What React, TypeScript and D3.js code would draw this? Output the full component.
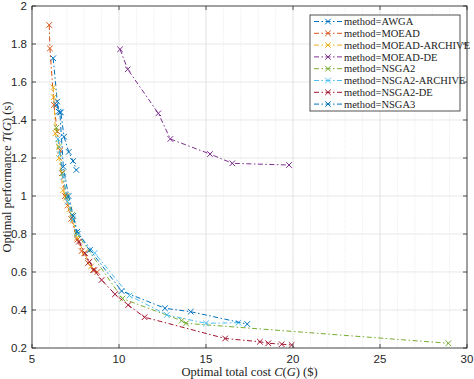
import React from "react";
import * as d3 from "d3";

const seriesNames = [
  "method=AWGA",
  "method=MOEAD",
  "method=MOEAD-ARCHIVE",
  "method=MOEAD-DE",
  "method=NSGA2",
  "method=NSGA2-ARCHIVE",
  "method=NSGA2-DE",
  "method=NSGA3",
];
const seriesColors = ["#0072BD", "#D95319", "#EDB120", "#7E2F8E", "#77AC30", "#4DBEEE", "#A2142F", "#0072BD"];

const awga: [number, number][] = [
  [6.22, 1.725], [6.45, 1.497], [6.53, 1.444], [6.66, 1.44], [6.84, 1.312], [7.11, 1.232], [7.36, 1.184], [7.55, 1.137],
];
const moead: [number, number][] = [
  [5.99, 1.9], [6.03, 1.777], [6.26, 1.48], [6.45, 1.34], [6.62, 1.24], [6.72, 1.12], [6.9, 1.0], [7.05, 0.95],
  [7.25, 0.88], [7.6, 0.77], [7.85, 0.71], [8.22, 0.647], [8.5, 0.61], [8.75, 0.6],
];
const moeadArchive: [number, number][] = [
  [6.22, 1.572], [6.25, 1.52], [6.35, 1.33], [6.55, 1.2], [6.78, 1.03], [6.95, 0.99], [7.15, 0.93], [7.35, 0.87],
  [7.58, 0.78], [8.0, 0.7], [8.4, 0.63],
];
const moeadDe: [number, number][] = [
  [10.06, 1.772], [10.5, 1.667], [12.26, 1.435], [12.95, 1.3], [15.23, 1.221], [16.51, 1.172], [19.77, 1.163],
];
const nsga2: [number, number][] = [
  [6.4, 1.36], [6.55, 1.26], [6.75, 1.12], [7.0, 1.0], [7.3, 0.9], [7.6, 0.8], [10.2, 0.46], [13.6, 0.344],
  [13.85, 0.33], [28.93, 0.225],
];
const nsga2Archive: [number, number][] = [
  [6.5, 1.3], [6.6, 1.22], [6.8, 1.1], [7.05, 0.97], [7.35, 0.88], [7.65, 0.8], [8.6, 0.7], [10.6, 0.476],
  [12.75, 0.374], [15.0, 0.33], [16.86, 0.333],
];
const nsga2De: [number, number][] = [
  [7.7, 0.76], [8.05, 0.698], [8.3, 0.654], [8.58, 0.61], [9.0, 0.558], [9.77, 0.483], [10.53, 0.426], [11.47, 0.362],
  [16.1, 0.25], [18.1, 0.233], [18.58, 0.225], [19.35, 0.22], [19.92, 0.216],
];
const nsga3: [number, number][] = [
  [6.4, 1.48], [6.6, 1.44], [6.8, 1.154], [7.1, 1.0], [7.37, 0.895], [7.6, 0.812], [8.33, 0.716], [10.15, 0.5],
  [12.64, 0.409], [14.12, 0.391], [17.37, 0.326],
];
const allSeries = [awga, moead, moeadArchive, moeadDe, nsga2, nsga2Archive, nsga2De, nsga3];

const xTicks = [5, 10, 15, 20, 25, 30];
const yTicks = [0.2, 0.4, 0.6, 0.8, 1, 1.2, 1.4, 1.6, 1.8, 2];
const xMinor = d3.range(5, 31, 1);

const W = 474;
const H = 379;
const L = 32, R = 467, T = 6, B = 348;

const x = d3.scaleLinear().domain([5, 30]).range([L, R]);
const y = d3.scaleLinear().domain([0.2, 2]).range([B, T]);

const line = d3
  .line<[number, number]>()
  .x((d) => x(d[0]))
  .y((d) => y(d[1]));

const DASH = "5,2.5,1.5,2.5";
const axisColor = "#262626";

function XMark({ cx, cy, color }: { cx: number; cy: number; color: string }) {
  const s = 2.8;
  return (
    <path
      d={`M${cx - s},${cy - s}L${cx + s},${cy + s}M${cx - s},${cy + s}L${cx + s},${cy - s}`}
      stroke={color}
      strokeWidth={1}
      fill="none"
    />
  );
}

export default function App() {
  const legendX = 310, legendY = 15, legendW = 150, legendH = 96;
  return (
    <svg width={W} height={H} style={{ position: "absolute", left: 0, top: 0 }}>
      <rect x={0} y={0} width={W} height={H} fill="#fff" />
      <defs>
        <clipPath id="plotclip">
          <rect x={L} y={T} width={R - L} height={B - T} />
        </clipPath>
      </defs>
      {xMinor.map((v) => (
        <line key={"xm" + v} x1={x(v)} x2={x(v)} y1={T} y2={B} stroke="#d8d8d8" strokeWidth={0.6} strokeDasharray="1,1.5" />
      ))}
      {xTicks.map((v) => (
        <line key={"xg" + v} x1={x(v)} x2={x(v)} y1={T} y2={B} stroke="#dedede" strokeWidth={0.7} />
      ))}
      {yTicks.map((v) => (
        <line key={"yg" + v} x1={L} x2={R} y1={y(v)} y2={y(v)} stroke="#dedede" strokeWidth={0.7} />
      ))}
      <g clipPath="url(#plotclip)">
        {allSeries.map((s, i) => (
          <g key={"s" + i}>
            <path d={line(s) || ""} fill="none" stroke={seriesColors[i]} strokeWidth={1} strokeDasharray={DASH} />
            {s.map((d, j) => (
              <XMark key={j} cx={x(d[0])} cy={y(d[1])} color={seriesColors[i]} />
            ))}
          </g>
        ))}
      </g>
      <rect x={L} y={T} width={R - L} height={B - T} fill="none" stroke={axisColor} strokeWidth={0.8} />
      {xTicks.map((v) => (
        <g key={"xt" + v}>
          <line x1={x(v)} x2={x(v)} y1={B} y2={B - 4} stroke={axisColor} strokeWidth={0.8} />
          <line x1={x(v)} x2={x(v)} y1={T} y2={T + 4} stroke={axisColor} strokeWidth={0.8} />
          <text x={x(v)} y={B + 15} textAnchor="middle" fontFamily="Liberation Sans, Arial, sans-serif" fontSize={11.5} fill={axisColor}>
            {v}
          </text>
        </g>
      ))}
      {yTicks.map((v) => (
        <g key={"yt" + v}>
          <line x1={L} x2={L + 4} y1={y(v)} y2={y(v)} stroke={axisColor} strokeWidth={0.8} />
          <line x1={R} x2={R - 4} y1={y(v)} y2={y(v)} stroke={axisColor} strokeWidth={0.8} />
          <text x={L - 5} y={y(v) + 4} textAnchor="end" fontFamily="Liberation Sans, Arial, sans-serif" fontSize={11.5} fill={axisColor}>
            {String(v)}
          </text>
        </g>
      ))}
      <text x={(L + R) / 2} y={376} textAnchor="middle" fontFamily="Liberation Serif, 'DejaVu Serif', serif" fontSize={12.5} fill="#222">
        Optimal total cost <tspan fontStyle="italic">C</tspan>(<tspan fontStyle="italic">G</tspan>) ($)
      </text>
      <text
        transform={`translate(11,${(T + B) / 2}) rotate(-90)`}
        textAnchor="middle"
        fontFamily="Liberation Serif, 'DejaVu Serif', serif"
        fontSize={12.5}
        fill="#222"
      >
        Optimal performance <tspan fontStyle="italic">T</tspan>(<tspan fontStyle="italic">G</tspan>) (s)
      </text>
      <rect x={legendX} y={legendY} width={legendW} height={legendH} fill="#fff" stroke={axisColor} strokeWidth={0.8} />
      {seriesNames.map((n, i) => {
        const ly = legendY + 6.5 + i * 11.8;
        return (
          <g key={"lg" + i}>
            <line x1={legendX + 4} x2={legendX + 32} y1={ly} y2={ly} stroke={seriesColors[i]} strokeWidth={1} strokeDasharray={DASH} />
            <XMark cx={legendX + 18} cy={ly} color={seriesColors[i]} />
            <text x={legendX + 34} y={ly + 3.7} fontFamily="'Liberation Serif', serif" fontSize={10.5} fill="#222">
              {n}
            </text>
          </g>
        );
      })}
    </svg>
  );
}
